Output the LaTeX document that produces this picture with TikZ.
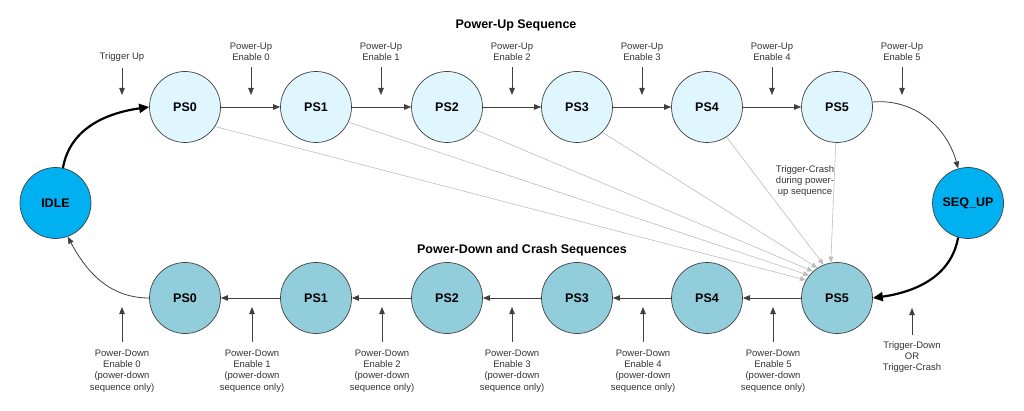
\documentclass[tikz,border=0pt]{standalone}
\usepackage{fontspec}
\setmainfont{Liberation Sans}
\usetikzlibrary{positioning,arrows.meta}
\definecolor{upfill}{HTML}{E0F6FE}
\definecolor{downfill}{HTML}{92CDDC}
\definecolor{mainfill}{HTML}{00B0F0}
\definecolor{edgegray}{HTML}{404040}
\definecolor{crashgray}{HTML}{BDBDBD}
\definecolor{txtgray}{HTML}{333333}

\begin{document}
\begin{tikzpicture}[x=1pt, y=1pt,
  state/.style={circle, draw=edgegray, line width=0.7pt, minimum size=71pt, inner sep=0pt, font=\fontsize{12.5}{14}\selectfont\bfseries},
  upstate/.style={state, fill=upfill},
  downstate/.style={state, fill=downfill},
  mainstate/.style={state, fill=mainfill},
  lbl/.style={align=center, font=\fontsize{9.5}{11.3}\selectfont, text=txtgray, inner sep=2pt},
  heading/.style={font=\fontsize{12.5}{14}\selectfont\bfseries},
  arrow/.style={-{Triangle[length=7pt,width=5.5pt]}, line width=0.8pt, draw=edgegray},
  bigarrow/.style={-{Triangle[length=10pt,width=9pt]}, line width=2.2pt, draw=black},
  crash/.style={-{Triangle[length=6pt,width=5pt]}, line width=0.6pt, draw=crashgray}
]
  \useasboundingbox (0,0) rectangle (1024,-411);

  % Headings
  \node[heading] (uptitle) at (516,-25) {Power-Up Sequence};
  \node[heading] (dntitle) at (522,-250) {Power-Down and Crash Sequences};

  % Main states
  \node[mainstate] (idle) at (55.5,-203) {IDLE};
  \node[mainstate] (sequp) at (968,-203) {SEQ\_UP};

  % Power-up states
  \node[upstate] (u0) at (185,-107) {PS0};
  \node[upstate] (u1) at (316,-107) {PS1};
  \node[upstate] (u2) at (447,-107) {PS2};
  \node[upstate] (u3) at (577,-107) {PS3};
  \node[upstate] (u4) at (707,-107) {PS4};
  \node[upstate] (u5) at (837,-107) {PS5};

  % Power-down states
  \node[downstate] (d0) at (185,-298) {PS0};
  \node[downstate] (d1) at (316,-298) {PS1};
  \node[downstate] (d2) at (447,-298) {PS2};
  \node[downstate] (d3) at (577,-298) {PS3};
  \node[downstate] (d4) at (707,-298) {PS4};
  \node[downstate] (d5) at (837,-298) {PS5};

  % Crash transitions
  \draw[crash] (u0.-33) -- (d5.150);
  \draw[crash] (u1.-25) -- (d5.141);
  \draw[crash] (u2.-39) -- (d5.132);
  \draw[crash] (u3.-45) -- (d5.123);
  \draw[crash] (u4.-57) -- (d5.112);
  \draw[crash] (u5.-92) -- (d5.100);
  \node[lbl] (crashlbl) at (805,-181) {Trigger-Crash\\during power-\\up sequence};

  % Power-up chain
  \draw[arrow] (u0) -- (u1);
  \draw[arrow] (u1) -- (u2);
  \draw[arrow] (u2) -- (u3);
  \draw[arrow] (u3) -- (u4);
  \draw[arrow] (u4) -- (u5);

  % Power-down chain
  \draw[arrow] (d5) -- (d4);
  \draw[arrow] (d4) -- (d3);
  \draw[arrow] (d3) -- (d2);
  \draw[arrow] (d2) -- (d1);
  \draw[arrow] (d1) -- (d0);

  % Loop round
  \draw[bigarrow] (idle.78) to[out=80, in=188] (u0.west);
  \draw[arrow] (u5.8) to[out=5, in=105] (sequp.106);
  \draw[bigarrow] (sequp.-106) to[out=-100, in=8] (d5.east);
  \draw[arrow] (d0.west) to[out=180, in=-62] (idle.-70);

  % Power-up inputs
  \node[lbl] (trigup) at (122,-57) {Trigger Up};
  \node[lbl] (pu0) at (251,-52) {Power-Up\\Enable 0};
  \node[lbl] (pu1) at (381,-52) {Power-Up\\Enable 1};
  \node[lbl] (pu2) at (512,-52) {Power-Up\\Enable 2};
  \node[lbl] (pu3) at (642,-52) {Power-Up\\Enable 3};
  \node[lbl] (pu4) at (772,-52) {Power-Up\\Enable 4};
  \node[lbl] (pu5) at (902,-52) {Power-Up\\Enable 5};
  \coordinate (trigupend) at (122,-95);
  \coordinate (pu0end) at (251,-95);
  \coordinate (pu1end) at (381,-95);
  \coordinate (pu2end) at (512,-95);
  \coordinate (pu3end) at (642,-95);
  \coordinate (pu4end) at (772,-95);
  \coordinate (pu5end) at (902,-95);
  \draw[arrow, shorten <=4pt] (trigup) -- (trigupend);
  \draw[arrow, shorten <=4pt] (pu0) -- (pu0end);
  \draw[arrow, shorten <=4pt] (pu1) -- (pu1end);
  \draw[arrow, shorten <=4pt] (pu2) -- (pu2end);
  \draw[arrow, shorten <=4pt] (pu3) -- (pu3end);
  \draw[arrow, shorten <=4pt] (pu4) -- (pu4end);
  \draw[arrow, shorten <=4pt] (pu5) -- (pu5end);

  % Power-down inputs
  \node[lbl] (pd0) at (122,-371) {Power-Down\\Enable 0\\(power-down\\sequence only)};
  \node[lbl] (pd1) at (252,-371) {Power-Down\\Enable 1\\(power-down\\sequence only)};
  \node[lbl] (pd2) at (382,-371) {Power-Down\\Enable 2\\(power-down\\sequence only)};
  \node[lbl] (pd3) at (512,-371) {Power-Down\\Enable 3\\(power-down\\sequence only)};
  \node[lbl] (pd4) at (643,-371) {Power-Down\\Enable 4\\(power-down\\sequence only)};
  \node[lbl] (pd5) at (773,-371) {Power-Down\\Enable 5\\(power-down\\sequence only)};
  \node[lbl] (trigdn) at (912,-357) {Trigger-Down\\OR\\Trigger-Crash};
  \coordinate (pd0end) at (122,-307);
  \coordinate (pd1end) at (252,-307);
  \coordinate (pd2end) at (382,-307);
  \coordinate (pd3end) at (512,-307);
  \coordinate (pd4end) at (643,-307);
  \coordinate (pd5end) at (773,-307);
  \coordinate (trigdnend) at (912,-308);
  \draw[arrow, shorten <=6pt] (pd0) -- (pd0end);
  \draw[arrow, shorten <=6pt] (pd1) -- (pd1end);
  \draw[arrow, shorten <=6pt] (pd2) -- (pd2end);
  \draw[arrow, shorten <=6pt] (pd3) -- (pd3end);
  \draw[arrow, shorten <=6pt] (pd4) -- (pd4end);
  \draw[arrow, shorten <=6pt] (pd5) -- (pd5end);
  \draw[arrow, shorten <=4pt] (trigdn) -- (trigdnend);
\end{tikzpicture}
\end{document}
